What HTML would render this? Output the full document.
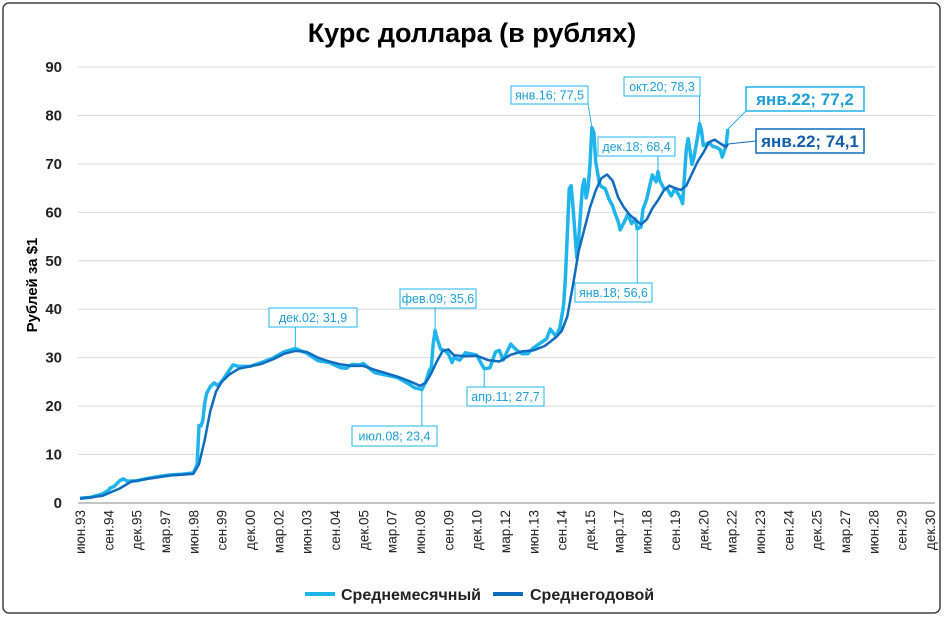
<!DOCTYPE html>
<html><head><meta charset="utf-8"><style>
body{margin:0;background:#fff;width:945px;height:618px;overflow:hidden;font-family:"Liberation Sans",sans-serif}
</style></head><body>
<svg id="c" width="945" height="618" xmlns="http://www.w3.org/2000/svg" style="font-family:'Liberation Sans',sans-serif">
<rect x="3" y="3" width="937" height="610" rx="6" fill="#fff" stroke="#404040" stroke-width="1.5"/>
<text x="472" y="42" text-anchor="middle" font-size="27" font-weight="bold" fill="#000">Курс доллара (в рублях)</text>
<text transform="translate(37,285) rotate(-90)" text-anchor="middle" font-size="15" font-weight="bold">Рублей за $1</text>
<g id="grid"></g><g id="xl"></g><g id="series"></g><g id="ann"></g>
<g>
<line x1="305" y1="594" x2="335" y2="594" stroke="#1fb4ec" stroke-width="4"/>
<text x="341" y="600" font-size="16" font-weight="bold" fill="#222">Среднемесячный</text>
<line x1="493" y1="594" x2="523" y2="594" stroke="#0f6cbf" stroke-width="4"/>
<text x="530" y="600" font-size="16" font-weight="bold" fill="#222">Среднегодовой</text>
</g>
</svg>
<script>
const yTicks=[0,10,20,30,40,50,60,70,80,90];
const xTickLabels=["июн.93","сен.94","дек.95","мар.97","июн.98","сен.99","дек.00","мар.02","июн.03","сен.04","дек.05","мар.07","июн.08","сен.09","дек.10","мар.12","июн.13","сен.14","дек.15","мар.17","июн.18","сен.19","дек.20","мар.22","июн.23","сен.24","дек.25","мар.27","июн.28","сен.29","дек.30"];
const monthlyDates=["1993-06","1993-12","1994-06","1994-09","1994-10","1994-12","1995-03","1995-05","1995-07","1995-12","1996-06","1996-12","1997-06","1997-12","1998-06","1998-08","1998-09","1998-10","1998-11","1998-12","1999-01","1999-03","1999-05","1999-07","1999-09","1999-12","2000-03","2000-06","2000-12","2001-06","2001-12","2002-06","2002-12","2003-03","2003-06","2003-12","2004-06","2004-12","2005-03","2005-06","2005-10","2005-12","2006-06","2006-12","2007-06","2007-12","2008-03","2008-07","2008-09","2008-11","2008-12","2009-01","2009-02","2009-03","2009-05","2009-07","2009-09","2009-11","2009-12","2010-03","2010-06","2010-09","2010-12","2011-04","2011-07","2011-10","2011-12","2012-02","2012-06","2012-09","2012-12","2013-03","2013-06","2013-09","2014-01","2014-03","2014-06","2014-08","2014-10","2014-11","2014-12","2015-01","2015-02","2015-03","2015-05","2015-06","2015-08","2015-09","2015-10","2015-11","2015-12","2016-01","2016-02","2016-03","2016-05","2016-06","2016-08","2016-10","2016-12","2017-01","2017-03","2017-04","2017-06","2017-08","2017-10","2017-12","2018-01","2018-03","2018-04","2018-06","2018-08","2018-09","2018-11","2018-12","2019-01","2019-03","2019-05","2019-07","2019-09","2019-12","2020-01","2020-03","2020-04","2020-06","2020-07","2020-09","2020-10","2020-11","2020-12","2021-03","2021-05","2021-07","2021-09","2021-10","2021-11","2021-12","2022-01"];
const monthlyValues=[1.0,1.2,1.9,2.6,3.1,3.4,4.6,5.0,4.5,4.6,5.1,5.5,5.8,5.95,6.2,7.9,16,15.9,17,20.6,22.6,24,24.8,24.2,25.1,26.8,28.5,28.2,28.2,29.0,29.9,31.2,31.9,31.4,30.9,29.4,29.0,27.9,27.8,28.6,28.5,28.8,26.9,26.4,25.9,24.6,23.8,23.4,25.0,27.4,28.0,32.8,35.6,34.0,31.7,31.5,30.8,29.0,30.0,29.5,31.0,30.8,30.5,27.7,27.9,31.2,31.5,29.5,32.8,31.6,30.8,30.8,32.0,32.8,33.9,35.9,34.4,36.1,40.8,46.5,55.4,64.8,65.5,61.1,50.6,54.6,65.1,66.8,63.0,65.0,69.9,77.5,76.5,70.5,66.0,65.3,64.9,62.8,61.3,60.0,58.0,56.4,57.9,59.6,57.7,58.6,56.6,57.0,60.6,62.7,66.1,67.7,66.3,68.4,66.5,65.0,64.8,63.4,64.9,62.9,61.8,73.0,75.2,69.9,71.3,75.7,78.3,77.0,73.8,74.4,73.6,73.4,72.9,71.4,72.6,73.7,77.2];
const annualDates=["1993-06","1994-06","1995-03","1995-09","1996-06","1997-06","1998-06","1998-09","1998-12","1999-03","1999-06","1999-09","2000-01","2000-06","2001-01","2001-06","2002-01","2002-06","2002-12","2003-06","2003-12","2004-06","2004-12","2005-06","2005-12","2006-06","2006-12","2007-06","2007-12","2008-06","2008-09","2008-12","2009-03","2009-06","2009-09","2009-12","2010-06","2010-12","2011-06","2011-12","2012-06","2012-12","2013-06","2013-12","2014-06","2014-09","2014-12","2015-03","2015-06","2015-09","2015-12","2016-03","2016-06","2016-09","2016-12","2017-03","2017-06","2017-09","2017-12","2018-03","2018-06","2018-09","2018-12","2019-03","2019-06","2019-09","2019-12","2020-03","2020-06","2020-09","2020-12","2021-03","2021-06","2021-09","2021-12","2022-01"];
const annualValues=[0.9,1.5,3,4.4,5.0,5.7,6.0,8,13,19,23,25,26.5,27.7,28.3,28.7,29.8,30.8,31.4,31.2,30.0,29.2,28.6,28.3,28.3,27.5,26.8,26.1,25.2,24.2,24.8,26.8,29.3,31.4,31.7,30.5,30.3,30.4,29.5,29.2,30.6,31.3,31.5,32.4,34.2,35.5,38.5,45,52,56.5,61,64.5,67,67.8,66.5,63,61,59.5,58.5,57.5,58.5,60.8,62.5,64.5,65.5,65,64.6,65.5,68,70.5,72.3,74.5,75.0,74.2,73.5,74.1];
const annDates=["2016-01","2020-10","2022-01","2022-01","2018-12","2018-01","2009-02","2002-12","2011-04","2008-07"];
const annTexts=["янв.16; 77,5","окт.20; 78,3","янв.22; 77,2","янв.22; 74,1","дек.18; 68,4","янв.18; 56,6","фев.09; 35,6","дек.02; 31,9","апр.11; 27,7","июл.08; 23,4"];
const annValues=[77.5,78.3,77.2,74.1,68.4,56.6,35.6,31.9,27.7,23.4];
const annBoxes=[[511,86,77,18],[624,77,76,19],[746,87,118,24],[756,129,108,24],[598,137,77,19],[575,283,77,19],[400,289,76,19],[269,308,88,19],[467,387,77,19],[352,426,85,20]];
const NS="http://www.w3.org/2000/svg";
const X0=80,XPM=850/450,Y0=503,YPU=436/90;
function mi(d){const [y,m]=d.split("-").map(Number);return (y-1993)*12+(m-6);}
function xs(d){return X0+mi(d)*XPM;}
function ys(v){return Y0-v*YPU;}
function mk(t,a,p){const e=document.createElementNS(NS,t);for(const k in a)e.setAttribute(k,a[k]);p.appendChild(e);return e;}
const grid=document.getElementById('grid');
yTicks.forEach(v=>{
 const l=mk('line',{x1:78,x2:935,y1:ys(v),y2:ys(v),stroke:v===0?'#888':'#d9d9d9','stroke-width':1},grid);
 
 
 const t=mk('text',{x:62,y:ys(v)+5,'text-anchor':'end','font-size':15,'font-weight':'bold',fill:'#222'},grid);
 t.textContent=v;
 
 
});
const xl=document.getElementById('xl');
xTickLabels.forEach((s,i)=>{
 const x=X0+i*15*XPM;
 const t=mk('text',{transform:`translate(${x+5},510) rotate(-90)`,'text-anchor':'end','font-size':13.5,fill:'#222'},xl);
 t.textContent=s;
 
 
});
const sg=document.getElementById('series');
function line(ds,vs,col,w,name){
 const p=mk('polyline',{points:ds.map((d,i)=>xs(d).toFixed(1)+','+ys(vs[i]).toFixed(1)).join(' '),fill:'none',stroke:col,'stroke-width':w,'stroke-linejoin':'round'},sg);
 
 
}
line(monthlyDates,monthlyValues,'#1fb4ec',3.5,'monthly-line');
line(annualDates,annualValues,'#0f6cbf',2.5,'annual-line');
const ag=document.getElementById('ann');
annTexts.forEach((s,i)=>{
 const [bx,by,bw,bh]=annBoxes[i];
 const dark=i===3,big=i===2||i===3;
 const col=dark?'#0f6cbf':'#1fb4ec';
 const px=xs(annDates[i]),py=ys(annValues[i]);
 const cx=Math.max(bx,Math.min(bx+bw,px)),cy=py<by?by:(py>by+bh?by+bh:by+bh/2);
 const ln=mk('line',{x1:px,y1:py,x2:cx,y2:cy,stroke:col,'stroke-width':1},ag);
 
 
 const r=mk('rect',{x:bx,y:by,width:bw,height:bh,fill:'#fff',stroke:col,'stroke-width':big?1.5:1},ag);
 
 
 const t=mk('text',{x:bx+bw/2,y:by+bh/2+(big?6:4.5),'text-anchor':'middle','font-size':big?17:12.5,'font-weight':big?'bold':'normal',fill:dark?'#0f5fae':'#1a9fd8'},ag);
 t.textContent=s;
 
 
});
</script>
</body></html>
